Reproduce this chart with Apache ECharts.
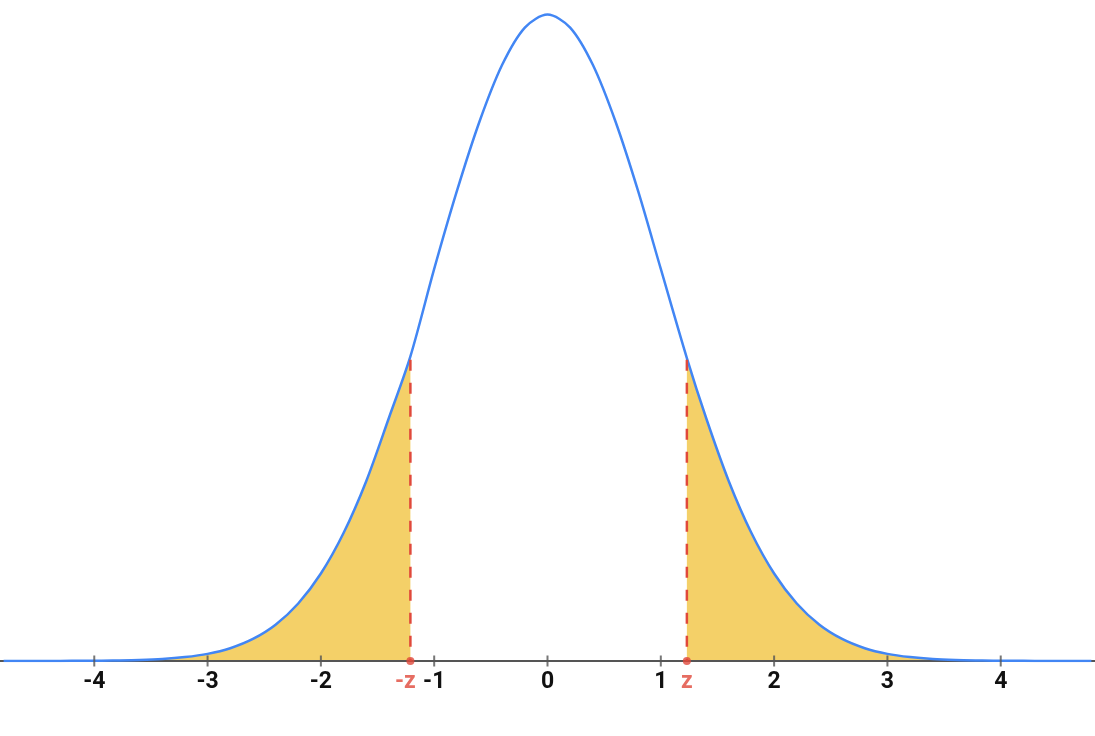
<!DOCTYPE html>
<html>
<head>
<meta charset="utf-8">
<script src="https://cdn.jsdelivr.net/npm/echarts@6/dist/echarts.min.js"></script>
<style>
html,body{margin:0;padding:0;background:#fff;}
#chart{width:1095px;height:736px;}
</style>
</head>
<body>
<div id="chart"></div>
<script>
// x positions (standard score) and curve heights
var xValues = [-4.8,-4.6,-4.4,-4.2,-4.0,-3.8,-3.6,-3.4,-3.2,-3.0,-2.8,-2.6,-2.4,-2.2,-2.0,-1.8,-1.6,-1.4,-1.21,-1.0,-0.8,-0.6,-0.4,-0.2,0,
               0.2,0.4,0.6,0.8,1.0,1.23,1.4,1.6,1.8,2.0,2.2,2.4,2.6,2.8,3.0,3.2,3.4,3.6,3.8,4.0,4.2,4.4,4.6,4.8];
var yValues = [0,0,0,0.0001,0.0001,0.0003,0.0006,0.0012,0.0024,0.0044,0.0079,0.0136,0.0224,0.0355,0.054,0.079,0.111,0.150,0.188,0.242,0.290,0.333,0.368,0.391,0.399,
               0.391,0.368,0.333,0.290,0.242,0.187,0.150,0.111,0.079,0.054,0.0355,0.0224,0.0136,0.0079,0.0044,0.0024,0.0012,0.0006,0.0003,0.0001,0.0001,0,0,0];
var tickValues = [-4,-3,-2,-1,0,1,2,3,4];
var zLeft = -1.21, zRight = 1.23;
var zLeftHeight = 0.186, zRightHeight = 0.186;
var zLabels = ['-z','z'];

var curve = xValues.map(function(x,i){return [x,yValues[i]];});
var leftTail = curve.filter(function(p){return p[0] <= zLeft;});
var rightTail = curve.filter(function(p){return p[0] >= zRight;});

var BLUE = '#4286F4', YELLOW = '#F4D068', RED = '#E0493B', GRAY = '#555555';
var FONT = 'Roboto, "DejaVu Sans", sans-serif';

var chart = echarts.init(document.getElementById('chart'), null, {renderer:'canvas'});
var tailStyle = {
  type:'line', smooth:0.3, showSymbol:false, symbol:'none',
  lineStyle:{width:0}, areaStyle:{color:YELLOW, opacity:1, origin:'start'},
  z:2, silent:true
};
chart.setOption({
  animation:false,
  grid:{left:0,right:0,top:0,bottom:75,containLabel:false},
  xAxis:{
    type:'value', min:-4.832, max:4.832, z:3,
    axisLine:{show:true,onZero:false,lineStyle:{color:GRAY,width:2}},
    axisTick:{show:false},
    splitLine:{show:false},
    axisLabel:{
      customValues:tickValues, margin:10,
      color:'#111', fontSize:23, fontWeight:'bold', fontFamily:FONT,
      formatter:function(v){return String(v);}
    }
  },
  yAxis:{type:'value', min:0, max:0.408, show:false, splitLine:{show:false}},
  series:[
    Object.assign({data:leftTail}, tailStyle),
    Object.assign({data:rightTail}, tailStyle),
    {
      type:'line', data:curve, smooth:0.3, showSymbol:false, symbol:'none',
      lineStyle:{color:BLUE,width:2.5}, z:4, silent:true
    },
    {
      type:'scatter', data:tickValues.map(function(t){return [t,0];}),
      symbol:'rect', symbolSize:[2,11], itemStyle:{color:GRAY}, z:5, silent:true
    },
    {
      type:'line', data:[[zLeft,zLeftHeight],[zLeft,0]], showSymbol:false, symbol:'none',
      lineStyle:{color:RED,width:2.5,type:[11,12]}, z:6, silent:true
    },
    {
      type:'line', data:[[zRight,zRightHeight],[zRight,0]], showSymbol:false, symbol:'none',
      lineStyle:{color:RED,width:2.5,type:[11,12]}, z:6, silent:true
    },
    {
      type:'scatter', symbol:'circle', symbolSize:8, z:7, silent:true,
      itemStyle:{color:RED},
      data:[
        {value:[zLeft,0], name:zLabels[0], label:{offset:[-5,0]}},
        {value:[zRight,0], name:zLabels[1]}
      ],
      label:{
        show:true, position:'bottom', distance:6,
        formatter:function(p){return p.name;},
        color:RED, fontSize:23, fontWeight:'bold', fontFamily:FONT
      }
    }
  ]
});
</script>
</body>
</html>
